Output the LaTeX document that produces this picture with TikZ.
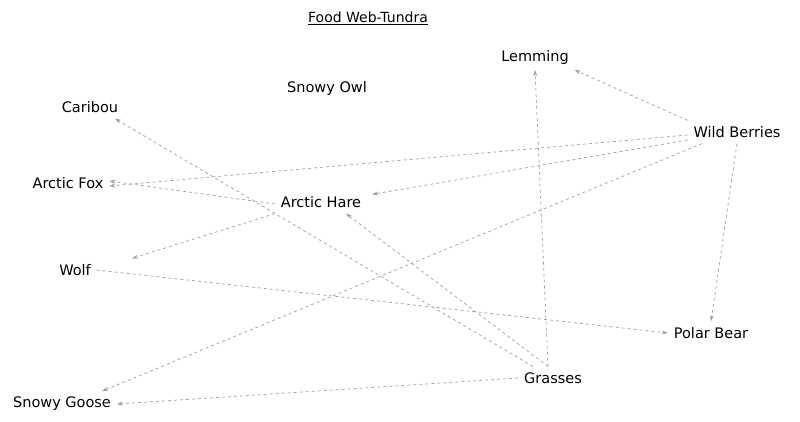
\documentclass[tikz,border=0pt]{standalone}
\usepackage{fontspec}
\setmainfont{DejaVu Sans}
\usetikzlibrary{arrows.meta}
\begin{document}
\begin{tikzpicture}[x=1pt,y=-1pt,
  lbl/.style={font=\fontsize{14.5}{17}\selectfont, inner sep=2pt, outer sep=4pt},
  eat/.style={draw=gray!75, dashed, line width=0.7pt, -{Stealth[length=6pt,width=4pt]}}]
\useasboundingbox (0,0) rectangle (800,421);
\fill[white] (0,0) rectangle (800,421);
\node[font=\fontsize{14}{16}\selectfont] (title) at (368,18) {\underline{Food Web-Tundra}};
\node[lbl] (lem) at (535,57) {Lemming};
\node[lbl] (owl) at (327,88) {Snowy Owl};
\node[lbl] (car) at (90,107) {Caribou};
\node[lbl] (wb) at (737,132) {Wild Berries};
\node[lbl] (fox) at (68,183) {Arctic Fox};
\node[lbl] (hare) at (321,202) {Arctic Hare};
\node[lbl] (wolf) at (75,270) {Wolf};
\node[lbl] (pb) at (711,333) {Polar Bear};
\node[lbl] (gr) at (553,378) {Grasses};
\node[lbl] (goose) at (62,404) {Snowy Goose};
\draw[eat] (wb.north west) -- (lem.south east);
\draw[eat] ([yshift=-3pt]wb.west) -- ([yshift=-3pt]fox.east);
\draw[eat] ([yshift=-8pt]wb.west) -- ([xshift=5pt,yshift=-4pt]hare.north east);
\draw[eat] ([xshift=-35pt]wb.south) -- ([xshift=40pt]goose.north);
\draw[eat] (wb.south) -- (pb.north);
\draw[eat] ([yshift=-2pt]hare.west) -- ([yshift=2pt]fox.east);
\draw[eat] (hare.south west) -- ([xshift=57pt]wolf.north);
\draw[eat] (wolf.east) -- (pb.west);
\draw[eat] ([xshift=-20pt]gr.north) -- ([xshift=25pt]car.south);
\draw[eat] ([xshift=-5pt]gr.north) -- ([xshift=25pt]hare.south);
\draw[eat] ([xshift=-5pt]gr.north) -- (lem.south);
\draw[eat] (gr.west) -- (goose.east);
\end{tikzpicture}
\end{document}
